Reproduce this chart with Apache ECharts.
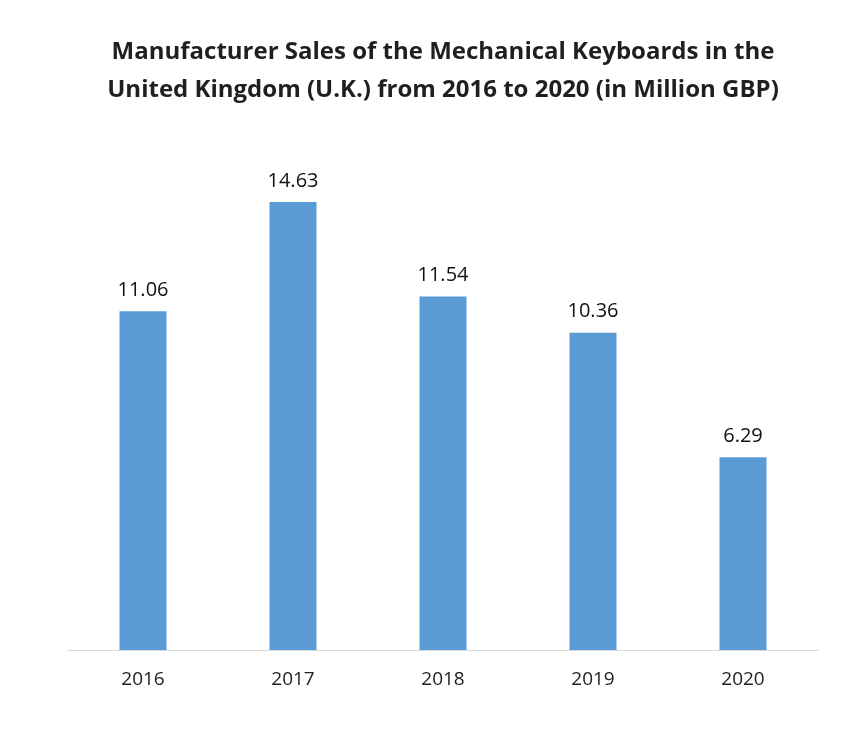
<!DOCTYPE html>
<html>
<head>
<meta charset="utf-8">
<script src="https://cdn.jsdelivr.net/npm/echarts@6/dist/echarts.min.js"></script>
<style>html,body{margin:0;padding:0;background:#fff}#c{width:844px;height:730px}</style>
</head>
<body>
<div id="c"></div>
<script>
var categories = ['2016', '2017', '2018', '2019', '2020'];
var sales = [11.06, 14.63, 11.54, 10.36, 6.29];
var titleText = 'Manufacturer Sales of the Mechanical Keyboards in the\nUnited Kingdom (U.K.) from 2016 to 2020 (in Million GBP)';

var chart = echarts.init(document.getElementById('c'));
chart.setOption({
  backgroundColor: '#ffffff',
  animation: false,
  graphic: [{
    type: 'text',
    style: {
      text: titleText,
      x: 443,
      y: 33,
      textAlign: 'center',
      textVerticalAlign: 'top',
      fontFamily: 'Open Sans',
      fontWeight: 'bold',
      fontSize: 24,
      lineHeight: 38,
      fill: '#1f1f1f'
    }
  }],
  grid: { left: 68, right: 26, top: 160, bottom: 80 },
  xAxis: {
    type: 'category',
    data: categories,
    axisLine: { lineStyle: { color: '#d9d9d9', width: 1 } },
    axisTick: { show: false },
    axisLabel: { fontFamily: 'Open Sans', fontSize: 19, color: '#222', margin: 20 }
  },
  yAxis: {
    type: 'value',
    min: 0,
    max: 16,
    show: false,
    splitLine: { show: false }
  },
  series: [{
    type: 'bar',
    data: sales,
    barWidth: 47,
    itemStyle: { color: '#5b9bd5' },
    label: {
      show: true,
      position: 'top',
      distance: 11,
      fontFamily: 'Open Sans',
      fontSize: 20,
      color: '#111',
      formatter: function (p) { return p.value.toFixed(2); }
    }
  }]
});
</script>
</body>
</html>
